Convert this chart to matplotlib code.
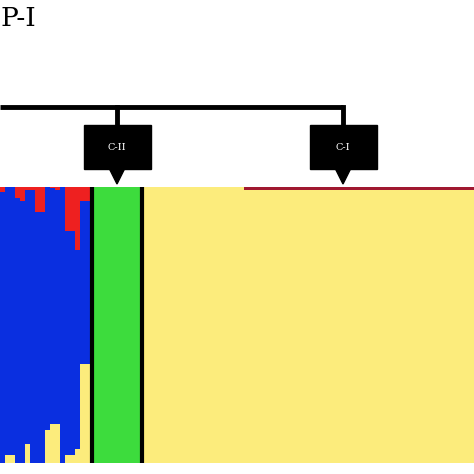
import matplotlib
matplotlib.use("Agg")
import matplotlib.pyplot as plt
from matplotlib.patches import Rectangle, Polygon
import numpy as np

# Group 1 (C-III region) ancestry proportions (%)
g1_red = [2, 0, 0, 4, 5, 1, 1, 9, 9, 0, 0.5, 1, 0, 16, 16, 23, 5, 5]
g1_yellow = [0, 3, 3, 0, 0, 7, 0, 0, 0, 12, 14, 14, 0, 3, 3, 5, 36, 36]
g2_n = 10   # green cluster, C-II
g3_n = 66   # yellow cluster, C-I
labels = ["C-II", "C-I"]
title = "P-I"

BLUE, RED, YEL, GRN = "#0a2fe0", "#ee2020", "#fcec7c", "#3ddc3d"

fig = plt.figure(figsize=(4.74, 4.74), dpi=100)
ax = fig.add_axes([0, 0.023, 1, 0.583])
W = 474 / 5.0
ax.set_xlim(0, W)
ax.set_ylim(0, 100)
ax.axis("off")

g1_red = np.array(g1_red); g1_yellow = np.array(g1_yellow)
x1 = np.arange(len(g1_red)) + 0.5
blue = 100 - g1_red - g1_yellow
ax.bar(x1, g1_yellow, width=1, color=YEL, linewidth=0)
ax.bar(x1, blue, bottom=g1_yellow, width=1, color=BLUE, linewidth=0)
ax.bar(x1, g1_red, bottom=g1_yellow + blue, width=1, color=RED, linewidth=0)

s1 = 18.4
x2 = s1 + 0.4 + np.arange(g2_n) * 0.96 + 0.48
ax.bar(x2, [100] * g2_n, width=0.97, color=GRN, linewidth=0)
s2 = 28.4
x3 = np.linspace(s2 + 0.4 + 0.5, W - 0.5, g3_n)
ax.bar(x3, [100] * g3_n, width=(W - s2) / g3_n + 0.05, color=YEL, linewidth=0)
ax.bar(x3[20:], [1] * (g3_n - 20), bottom=99, width=(W - s2) / g3_n + 0.05, color="#a01830", linewidth=0)
for s in (s1, s2):
    ax.axvline(s, color="black", lw=3)

# Tree and label boxes in figure pixel coords
ov = fig.add_axes([0, 0, 1, 1], zorder=5)
ov.set_xlim(0, 474); ov.set_ylim(474, 0); ov.axis("off")
ov.plot([0, 343], [107, 107], color="black", lw=3.5, solid_capstyle="butt")
for cx, lab in zip([117, 343], labels):
    ov.plot([cx, cx], [107, 126], color="black", lw=3.5)
    ov.add_patch(Rectangle((cx - 33, 125), 67, 44, color="black"))
    ov.add_patch(Polygon([[cx - 8, 168], [cx + 8, 168], [cx, 184]], color="black"))
    ov.text(cx, 147, lab, color="white", ha="center", va="center", fontsize=7, family="DejaVu Serif")
ov.text(1, 18, title, fontsize=19, family="DejaVu Serif", va="center", ha="left")

fig.savefig("out.png", dpi=100)
